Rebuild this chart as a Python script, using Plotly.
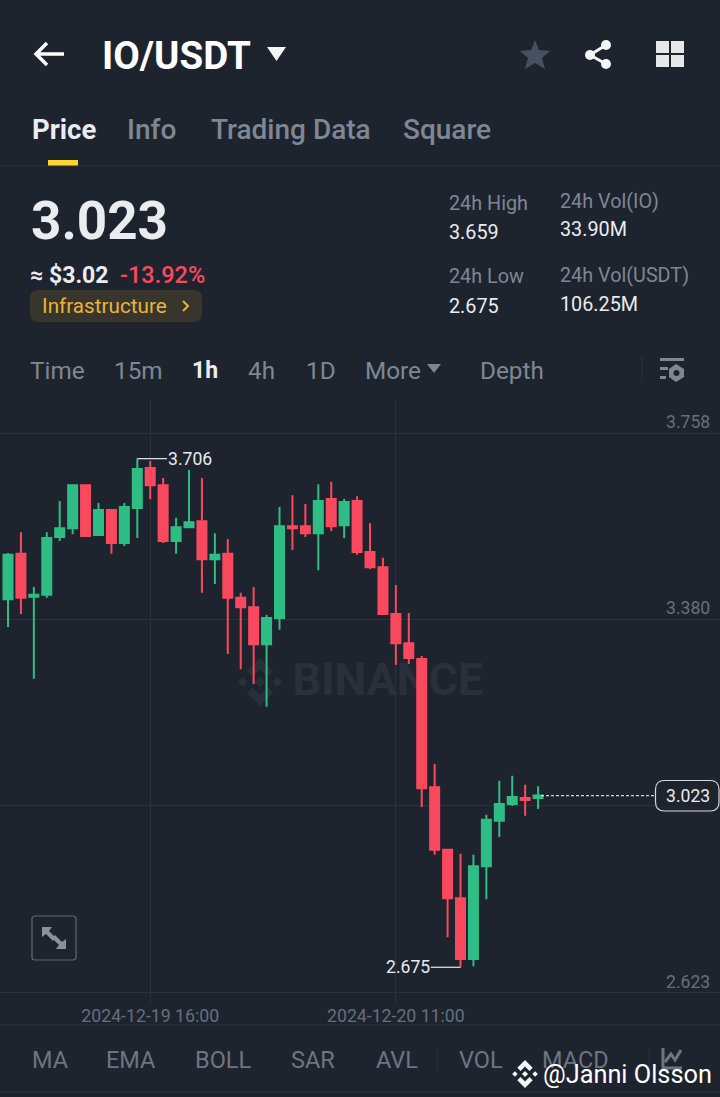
import plotly.graph_objects as go

W = 720
H = 1097

# 1h candles
opens = [3.421, 3.513, 3.426, 3.430, 3.547, 3.565, 3.652, 3.551, 3.602, 3.535, 3.606, 3.687, 3.652, 3.539,
         3.567, 3.579, 3.502, 3.513, 3.424, 3.405, 3.330, 3.383, 3.569, 3.569, 3.555, 3.624, 3.571, 3.620,
         3.517, 3.486, 3.391, 3.332, 3.300, 3.040, 2.913, 2.815, 2.692, 2.880, 2.972, 3.006, 3.018, 3.018]
highs = [3.515, 3.557, 3.446, 3.557, 3.620, 3.654, 3.654, 3.616, 3.604, 3.616, 3.706, 3.701, 3.667, 3.586,
         3.683, 3.667, 3.555, 3.543, 3.434, 3.446, 3.389, 3.608, 3.632, 3.614, 3.654, 3.659, 3.624, 3.630,
         3.575, 3.505, 3.450, 3.393, 3.306, 3.087, 2.915, 2.905, 2.903, 2.984, 3.053, 3.063, 3.045, 3.042]
lows = [3.365, 3.391, 3.260, 3.424, 3.539, 3.553, 3.547, 3.549, 3.513, 3.529, 3.545, 3.624, 3.535, 3.513,
        3.565, 3.434, 3.452, 3.310, 3.279, 3.249, 3.203, 3.359, 3.521, 3.547, 3.480, 3.559, 3.545, 3.511,
        3.482, 3.389, 3.288, 3.290, 3.000, 2.903, 2.736, 2.675, 2.677, 2.813, 2.939, 3.002, 2.982, 2.996]
closes = [3.511, 3.424, 3.430, 3.545, 3.565, 3.652, 3.549, 3.602, 3.535, 3.608, 3.685, 3.652, 3.539, 3.567,
          3.577, 3.502, 3.511, 3.424, 3.405, 3.330, 3.383, 3.569, 3.565, 3.555, 3.620, 3.569, 3.618, 3.517,
          3.486, 3.391, 3.332, 3.302, 3.038, 2.913, 2.815, 2.692, 2.880, 2.974, 3.006, 3.020, 3.014, 3.023]

price_grid = [3.758, 3.380, 3.002, 2.623]
price_labels = ["3.758", "3.380", "", "2.623"]
date_ticks = [11, 30]
date_labels = ["2024-12-19 16:00", "2024-12-20 11:00"]
last_price = 3.023
high_mark = 3.706
low_mark = 2.675

BG = "#1E242E"
GRID = "#2C323C"
GRAY = "#7E8794"
WHITE = "#EAECEF"
RED = "#F9495F"
GREEN = "#2EBD85"
FONT = "Roboto, sans-serif"


def X(px):
    return px / W


def Y(py):
    return 1 - py / H


def poly(pts, close=True):
    s = "M " + " L ".join(f"{X(a):.5f} {Y(b):.5f}" for a, b in pts)
    return s + (" Z" if close else "")


def round_rect(x0, y0, x1, y1, r):
    return (f"M {X(x0+r):.5f} {Y(y0):.5f} L {X(x1-r):.5f} {Y(y0):.5f} Q {X(x1):.5f} {Y(y0):.5f} {X(x1):.5f} {Y(y0+r):.5f} "
            f"L {X(x1):.5f} {Y(y1-r):.5f} Q {X(x1):.5f} {Y(y1):.5f} {X(x1-r):.5f} {Y(y1):.5f} "
            f"L {X(x0+r):.5f} {Y(y1):.5f} Q {X(x0):.5f} {Y(y1):.5f} {X(x0):.5f} {Y(y1-r):.5f} "
            f"L {X(x0):.5f} {Y(y0+r):.5f} Q {X(x0):.5f} {Y(y0):.5f} {X(x0+r):.5f} {Y(y0):.5f} Z")


fig = go.Figure()
fig.add_trace(go.Candlestick(
    x=list(range(len(opens))), open=opens, high=highs, low=lows, close=closes,
    increasing=dict(line=dict(color=GREEN, width=2), fillcolor=GREEN),
    decreasing=dict(line=dict(color=RED, width=2), fillcolor=RED),
    whiskerwidth=0, showlegend=False, hoverinfo="skip",
))

annotations = []
shapes = []


def text(px, py, s, size, color=GRAY, anchor="left", weight=400):
    annotations.append(dict(
        x=X(px), y=Y(py), xref="paper", yref="paper", text=s, showarrow=False,
        xanchor=anchor, yanchor="middle", align=anchor, borderpad=0, borderwidth=0,
        font=dict(family=FONT, size=size, color=color, weight=weight),
    ))


def line(x0, y0, x1, y1, color=GRID, width=1):
    shapes.append(dict(type="line", xref="paper", yref="paper", x0=X(x0), y0=Y(y0), x1=X(x1), y1=Y(y1),
                       line=dict(color=color, width=width)))


def fill(path, color, outline=None, width=1, layer="above"):
    shapes.append(dict(type="path", xref="paper", yref="paper", path=path, fillcolor=color, layer=layer,
                       line=dict(color=outline if outline else color, width=width if outline else 0)))


def logo(cx, cy, s, color, layer="above"):
    # the diamond mark: middle, two sides, two chevrons
    def diamond(x, y, r):
        return poly([(x, y - r), (x + r, y), (x, y + r), (x - r, y)])
    fill(diamond(cx, cy, 0.22 * s), color, layer=layer)
    fill(diamond(cx - 0.72 * s, cy, 0.2 * s), color, layer=layer)
    fill(diamond(cx + 0.72 * s, cy, 0.2 * s), color, layer=layer)
    for d in [-1, 1]:
        fill(poly([(cx, cy + d * s), (cx + 0.55 * s, cy + d * 0.45 * s), (cx + 0.32 * s, cy + d * 0.22 * s),
                   (cx, cy + d * 0.54 * s), (cx - 0.32 * s, cy + d * 0.22 * s), (cx - 0.55 * s, cy + d * 0.45 * s)]),
             color, layer=layer)


# header
line(36, 54, 64, 54, "#FFFFFF", 3.5)
fill(poly([(47, 43), (36, 54), (47, 65)], close=False), "rgba(0,0,0,0)", "#FFFFFF", 3.5)
text(102, 55, "IO/USDT", 38.5, "#FFFFFF", weight=700)
fill(poly([(267, 47), (286, 47), (276.5, 61)]), "#F4F5F6")
fill(poly([(535, 40), (539, 50), (550, 51), (542, 58), (545, 69), (535, 63), (525, 69), (528, 58), (520, 51), (531, 50)]), "#465060")
for cx, cy in [(606, 45), (590, 55), (606, 64)]:
    shapes.append(dict(type="circle", xref="paper", yref="paper", x0=X(cx - 5), x1=X(cx + 5), y0=Y(cy - 5), y1=Y(cy + 5),
                       fillcolor="#F4F5F6", line=dict(width=0)))
fill(poly([(606, 45), (590, 55), (606, 64)], close=False), "rgba(0,0,0,0)", "#F4F5F6", 3)
for x0, y0 in [(656, 41), (671, 41), (656, 55), (671, 55)]:
    fill(poly([(x0, y0), (x0 + 13, y0), (x0 + 13, y0 + 12), (x0, y0 + 12)]), "#E6E8EA")

# tabs
text(32, 130, "Price", 27.5, WHITE, weight=700)
for px, s in zip([127, 211, 403], ["Info", "Trading Data", "Square"]):
    text(px, 130, s, 28, GRAY, weight=500)
fill(poly([(48, 160), (78, 160), (78, 166), (48, 166)]), "#FCD535")
line(0, 166, 720, 166)

# price block
text(31, 221, "3.023", 53, WHITE, weight=700)
text(30, 275, "≈ $3.02", 23, WHITE, weight=700)
text(120, 275, "-13.92%", 23.5, RED, weight=500)
fill(round_rect(30, 290, 202, 322, 8), "#38352C")
text(42, 306, "Infrastructure", 20.7, "#E7B53A")
fill(poly([(183, 301), (188, 306), (183, 311)], close=False), "rgba(0,0,0,0)", "#E7B53A", 2)

for px, py, s in [(449, 203, "24h High"), (560, 201, "24h Vol(IO)"), (449, 277, "24h Low"), (560, 275, "24h Vol(USDT)")]:
    text(px, py, s, 19.8, GRAY)
for px, py, s in [(449, 232, "3.659"), (560, 230, "33.90M"), (449, 306, "2.675"), (560, 304, "106.25M")]:
    text(px, py, s, 19.8, WHITE)

# interval row
for px, s in zip([30, 114, 248, 306, 365, 480], ["Time", "15m", "4h", "1D", "More", "Depth"]):
    text(px, 370, s, 24.3, GRAY)
text(192, 370, "1h", 23, WHITE, weight=700)
fill(poly([(427, 364), (441, 364), (434, 373)]), GRAY)
line(642, 356, 642, 381)
fill(poly([(660, 358), (684, 358), (684, 361), (660, 361)]), "#7E8794")
fill(poly([(660, 367), (668, 367), (668, 370), (660, 370)]), "#7E8794")
fill(poly([(660, 376), (666, 376), (666, 379), (660, 379)]), "#7E8794")
fill(poly([(676, 364), (684, 369), (684, 377), (676, 382), (669, 377), (669, 369)]), "#7E8794")
shapes.append(dict(type="circle", xref="paper", yref="paper", x0=X(673.5), x1=X(679.5), y0=Y(370), y1=Y(376),
                   fillcolor=BG, line=dict(width=0)))

# watermark, under the candles
logo(260, 682, 24, "#2A303A", layer="below")
shapes.append(dict(type="rect", xref="paper", yref="paper", x0=X(288), x1=X(488), y0=Y(656), y1=Y(696), layer="below",
                   line=dict(width=0), fillcolor="rgba(0,0,0,0)",
                   label=dict(text="<b>BINANCE</b>", font=dict(family=FONT, size=45, color="#2A303A"),
                              textposition="middle center")))

# axis labels inside the chart
for val, s in zip(price_grid, price_labels):
    if s:
        annotations.append(dict(x=X(710), y=val, xref="paper", yref="y", text=s, showarrow=False, xanchor="right",
                                yanchor="bottom", yshift=1, borderpad=0, borderwidth=0,
                                font=dict(family=FONT, size=17.6, color="#666E7B")))

# high / low markers
shapes.append(dict(type="line", xref="x", yref="y", x0=10, x1=12.3, y0=high_mark, y1=high_mark, line=dict(color="#E8EAED", width=1.2)))
annotations.append(dict(x=12.35, y=high_mark, xref="x", yref="y", text=str(high_mark), showarrow=False, xanchor="left",
                        borderpad=0, borderwidth=0, font=dict(family=FONT, size=17.6, color="#E8EAED")))
shapes.append(dict(type="line", xref="x", yref="y", x0=32.7, x1=35, y0=low_mark, y1=low_mark, line=dict(color="#E8EAED", width=1.2)))
annotations.append(dict(x=32.65, y=low_mark, xref="x", yref="y", text=str(low_mark), showarrow=False, xanchor="right",
                        borderpad=0, borderwidth=0, font=dict(family=FONT, size=17.6, color="#E8EAED")))

# last price
shapes.append(dict(type="line", xref="paper", yref="y", x0=X(541), x1=X(655), y0=last_price, y1=last_price,
                   line=dict(color="#D5D8DC", width=1.2, dash="3px,2px")))
fill(round_rect(655.5, 780.5, 719, 811, 9), BG, "#D5D8DC", 1.2)
text(688, 796, str(last_price), 17.6, "#E8EAED", anchor="center")

# expand button
fill(round_rect(32, 916, 76, 960, 3), "rgba(0,0,0,0)", "#5E6673", 1.2)
fill(poly([(42, 927), (52, 927), (49, 931), (56, 938), (53, 941), (46, 934), (42, 937)]), "#8A919C")
fill(poly([(66, 949), (56, 949), (59, 945), (52, 938), (55, 935), (62, 942), (66, 939)]), "#8A919C")

# bottom row
line(0, 1025, 720, 1025)
line(0, 1092, 720, 1092)
for px, s in zip([32, 106, 195, 291, 376, 459, 542], ["MA", "EMA", "BOLL", "SAR", "AVL", "VOL", "MACD"]):
    text(px, 1060, s, 23.5, "#6D7583")
line(437, 1048, 437, 1072)
line(649, 1050, 649, 1070)
fill(poly([(663, 1048), (663, 1068), (682, 1068)], close=False), "rgba(0,0,0,0)", "#6D7583", 3)
fill(poly([(665, 1062), (671, 1054), (675, 1060), (681, 1050)], close=False), "rgba(0,0,0,0)", "#6D7583", 3)

# repost watermark
logo(525, 1074, 14, "#F4F5F6")
text(543, 1074, "@Janni Olsson", 25.3, "#FFFFFF")

fig.update_layout(
    width=W, height=H, margin=dict(l=0, r=0, t=0, b=0),
    paper_bgcolor=BG, plot_bgcolor=BG, showlegend=False,
    boxgap=0.17, boxgroupgap=0.16,
    annotations=annotations, shapes=shapes,
    xaxis=dict(range=[-0.6187, 55.07], rangeslider=dict(visible=False), tickmode="array", tickvals=date_ticks,
               ticktext=date_labels, showgrid=True, gridcolor=GRID, gridwidth=1, zeroline=False, showline=False,
               ticks="", tickfont=dict(family=FONT, size=17.7, color="#666E7B")),
    yaxis=dict(domain=[Y(1003), Y(400)], range=[2.6026, 3.8249], tickmode="array", tickvals=price_grid,
               showticklabels=False, showgrid=True, gridcolor=GRID, gridwidth=1, zeroline=False, showline=False, ticks=""),
)

fig.write_html("out.html", config=dict(displayModeBar=False), post_script="document.body.style.margin='0';")
